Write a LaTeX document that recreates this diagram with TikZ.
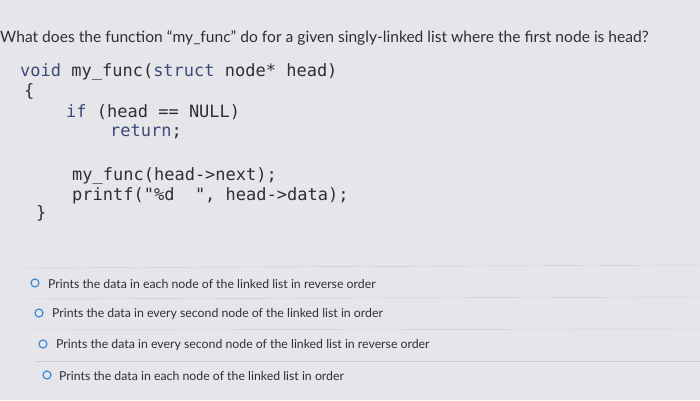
\documentclass[tikz,border=0pt]{standalone}
\usepackage{fontspec}
\setmainfont{Lato}
\setmonofont{DejaVu Sans Mono}
\definecolor{bg}{HTML}{E6E6EA}
\definecolor{txt}{HTML}{2E2E36}
\definecolor{kw}{HTML}{3A4A7A}
\definecolor{sep}{HTML}{C8C8CE}
\definecolor{radio}{HTML}{3C8AD8}
\begin{document}
\begin{tikzpicture}[x=1pt,y=-1pt,
  code/.style={anchor=west,inner sep=0,font=\ttfamily\fontsize{17}{19}\selectfont,text=txt},
  opt/.style={anchor=west,inner sep=0,font=\fontsize{12.3}{14}\selectfont,text=txt},
  rad/.style={circle,draw=radio,line width=1.2pt,minimum size=8pt,inner sep=0}]
\useasboundingbox (0,0) rectangle (700,400);
\fill[bg] (0,0) rectangle (700,400);
\node[anchor=west,inner sep=0,font=\fontsize{15.6}{17}\selectfont,text=txt] (title) at (0,38) {What does the function ``my\_func'' do for a given singly-linked list where the first node is head?};
\node[code] (c1) at (20,72) {\textcolor{kw}{void} my\_func(\textcolor{kw}{struct} node* head)};
\node[code] (c2) at (24,91) {\{};
\node[code] (c3) at (66,112) {\textcolor{kw}{if} (head == NULL)};
\node[code] (c4) at (110,132) {\textcolor{kw}{return};};
\node[code] (c5) at (72,176) {my\_func(head->next);};
\node[code] (c6) at (72,196) {printf("\%d\ \ ", head->data);};
\node[code] (c7) at (36,213) {\}};
\draw[sep] (25,268) -- (700,265);
\draw[sep] (28,299) -- (700,297);
\draw[sep] (32,330) -- (700,329);
\draw[sep] (36,361) -- (700,361);
\node[rad] (r1) at (35,283) {};
\node[rad] (r2) at (39,313) {};
\node[rad] (r3) at (43,344) {};
\node[rad] (r4) at (47,375) {};
\node[opt] (o1) at (48,284) {Prints the data in each node of the linked list in reverse order};
\node[opt] (o2) at (52,314) {Prints the data in every second node of the linked list in order};
\node[opt] (o3) at (56,345) {Prints the data in every second node of the linked list in reverse order};
\node[opt] (o4) at (59,376) {Prints the data in each node of the linked list in order};
\end{tikzpicture}
\end{document}
